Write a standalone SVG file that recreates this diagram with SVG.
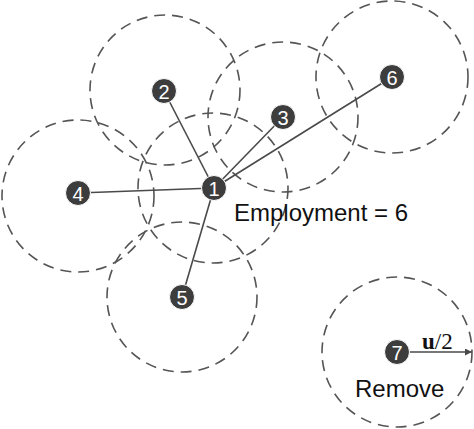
<svg xmlns="http://www.w3.org/2000/svg" width="474" height="429" viewBox="0 0 474 429">
<style>
.range{fill:none;stroke:#555;stroke-width:1.6;stroke-dasharray:11 7}
.edge{stroke:#4a4a4a;stroke-width:1.6;fill:none}
.node circle{fill:#3d3d3d;stroke:#fff;stroke-width:1}
.node text{fill:#fff;font-family:"Liberation Sans",Arial,sans-serif;font-size:20px;text-anchor:middle;dominant-baseline:central}
.label{fill:#111;font-family:"Liberation Sans",Arial,sans-serif;font-size:24px}
</style>
<defs>
<marker id="arr" viewBox="0 0 10 10" refX="10" refY="5" markerWidth="7" markerHeight="7" markerUnits="userSpaceOnUse" orient="auto">
<path d="M0,0 L10,5 L0,10 z" fill="#4a4a4a"/>
</marker>
</defs>
<rect width="474" height="429" fill="#fff"/>
<g id="ranges">
<circle class="range" cx="165" cy="90" r="75"/>
<circle class="range" cx="283" cy="117" r="75"/>
<circle class="range" cx="392" cy="77" r="76"/>
<circle class="range" cx="78" cy="196" r="76"/>
<circle class="range" cx="213" cy="188" r="75"/>
<circle class="range" cx="182" cy="297" r="75"/>
<circle class="range" cx="397" cy="352" r="75"/>
</g>
<g id="connectors">
<line class="edge" x1="214" y1="188" x2="164" y2="91"/>
<line class="edge" x1="214" y1="188" x2="283" y2="117"/>
<line class="edge" x1="214" y1="188" x2="392" y2="77"/>
<line class="edge" x1="214" y1="188" x2="78" y2="193"/>
<line class="edge" x1="214" y1="188" x2="182" y2="297"/>
<line class="edge" x1="397" y1="352" x2="472" y2="352" marker-end="url(#arr)"/>
</g>
<g id="node1" class="node"><circle cx="214" cy="188" r="12.5"/><text x="214" y="189">1</text></g>
<g id="node2" class="node"><circle cx="164" cy="91" r="12.5"/><text x="164" y="92">2</text></g>
<g id="node3" class="node"><circle cx="283" cy="117" r="12.5"/><text x="283" y="118">3</text></g>
<g id="node4" class="node"><circle cx="78" cy="193" r="12.5"/><text x="78" y="194">4</text></g>
<g id="node5" class="node"><circle cx="182" cy="297" r="12.5"/><text x="182" y="298">5</text></g>
<g id="node6" class="node"><circle cx="392" cy="77" r="12.5"/><text x="392" y="78">6</text></g>
<g id="node7" class="node"><circle cx="397" cy="352" r="12.5"/><text x="397" y="353">7</text></g>
<g id="labels">
<text class="label" x="234" y="221">Employment = 6</text>
<text class="label" x="355" y="397">Remove</text>
<text x="422" y="349" font-family="'Liberation Serif','Times New Roman',serif" font-size="23" fill="#111"><tspan font-weight="bold">u</tspan>/2</text>
</g>
</svg>
